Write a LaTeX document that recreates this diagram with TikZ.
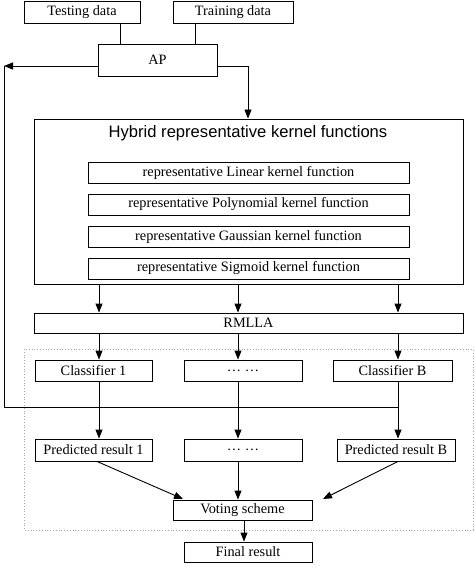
\documentclass[tikz,border=0pt]{standalone}
\usepackage{fontspec}
\setmainfont{Liberation Serif}
\newfontfamily\titlefont{Liberation Sans}
\usetikzlibrary{arrows.meta}
\begin{document}
\begin{tikzpicture}[x=1pt,y=-1pt,
  box/.style={draw, line width=0.9pt, inner sep=0pt, minimum height=21pt, font=\fontsize{14.3}{16}\selectfont},
  link/.style={line width=0.9pt},
  arr/.style={line width=0.9pt, -{Triangle[length=9pt,width=7pt]}}]
\useasboundingbox (0,0) rectangle (474,585);
% dotted frame
\draw[gray!70, dotted, line width=0.8pt] (24,349) rectangle (473,530);
% top
\node[box, minimum width=116pt, minimum height=22pt] (test) at (82,12) {Testing data};
\node[box, minimum width=120pt, minimum height=22pt] (train) at (233,12) {Training data};
\node[box, minimum width=119pt, minimum height=32pt] (ap) at (157.5,60) {AP};
% hybrid
\node[draw, line width=0.9pt, minimum width=429pt, minimum height=165pt, inner sep=0pt] (hyb) at (248.5,201.5) {};
\node[font=\titlefont\fontsize{16.6}{18}\selectfont, inner sep=0pt] (hybt) at (248,133) {Hybrid representative kernel functions};
\node[box, minimum width=321pt] (k1) at (248.5,172.5) {representative Linear kernel function};
\node[box, minimum width=321pt] (k2) at (248.5,204.5) {representative Polynomial kernel function};
\node[box, minimum width=321pt] (k3) at (248.5,236.5) {representative Gaussian kernel function};
\node[box, minimum width=321pt] (k4) at (248.5,268.5) {representative Sigmoid kernel function};
% RMLLA
\node[box, minimum width=429pt, minimum height=20pt] (rmlla) at (248.5,323) {RMLLA};
% classifiers
\node[box, minimum width=117pt] (c1) at (93.5,370.5) {Classifier 1};
\node[box, minimum width=118pt] (cd) at (243,370.5) {\ldots\ \ldots};
\node[box, minimum width=119pt] (cB) at (392.5,370.5) {Classifier B};
% predicted
\node[box, minimum width=117pt, minimum height=22pt] (p1) at (93.5,450) {Predicted result 1};
\node[box, minimum width=118pt, minimum height=22pt] (pd) at (243,450) {\ldots\ \ldots};
\node[box, minimum width=118pt, minimum height=22pt] (pB) at (396,450) {Predicted result B};
% voting / final
\node[box, minimum width=139pt, minimum height=20pt] (vote) at (242.5,510) {Voting scheme};
\node[box, minimum width=128pt, minimum height=20pt] (final) at (248,552) {Final result};
% helper coordinates
\coordinate (colA) at (99,0);
\coordinate (colB) at (238,0);
\coordinate (colC) at (398,0);
\coordinate (fbtop) at (4,66);
\coordinate (fbbot) at (4,407);
\coordinate (apR) at (248,66);
\coordinate (vL) at (183,499);
\coordinate (vR) at (323,499);
% connectors
\draw[link] (test.south -| 120,0) -- (ap.north -| 120,0);
\draw[link] (train.south -| 195,0) -- (ap.north -| 195,0);
\draw[arr] (ap.west |- fbtop) -- (fbtop);
\draw[link] (fbtop) -- (fbbot) -- (fbbot -| colC);
\draw[arr] (ap.east |- apR) -- (apR) -- (hyb.north -| apR);
\foreach \c in {colA,colB,colC}{
  \draw[arr] (hyb.south -| \c) -- (rmlla.north -| \c);
  \draw[arr] (rmlla.south -| \c) -- (c1.north -| \c);
}
\draw[arr] (c1.south -| colA) -- (p1.north -| colA);
\draw[arr] (cd.south -| colB) -- (pd.north -| colB);
\draw[arr] (cB.south -| colC) -- (pB.north -| colC);
\draw[arr] (p1.south -| 97,0) -- (vL);
\draw[arr] (pd.south -| colB) -- (vote.north -| colB);
\draw[arr] (pB.south -| colC) -- (vR);
\draw[arr] (vote.south -| 244,0) -- (final.north -| 244,0);
\end{tikzpicture}
\end{document}
